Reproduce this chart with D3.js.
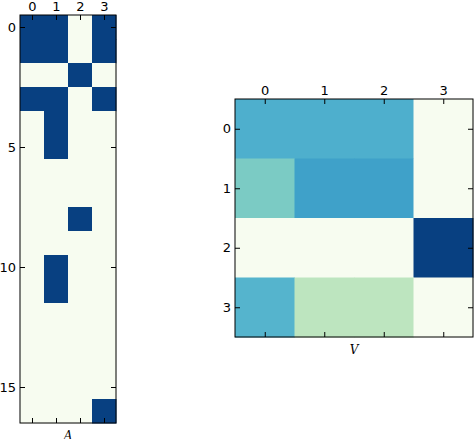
<!DOCTYPE html>
<html><head><meta charset="utf-8">
<script src="https://cdn.jsdelivr.net/npm/d3@7"></script>
<style>body{margin:0;background:#fff}text{font-family:"DejaVu Sans";font-size:13px}</style>
</head><body><svg id="c" width="474" height="439"></svg>
<script>
// binary matrix A (17 x 4)
var matA = [
  [1,1,0,1],[1,1,0,1],[0,0,1,0],[1,1,0,1],[0,1,0,0],[0,1,0,0],
  [0,0,0,0],[0,0,0,0],[0,0,1,0],[0,0,0,0],[0,1,0,0],[0,1,0,0],
  [0,0,0,0],[0,0,0,0],[0,0,0,0],[0,0,0,0],[0,0,0,1]
];
// matrix V (4 x 4)
var matV = [
  [0.63,0.63,0.63,0],
  [0.5,0.68,0.68,0],
  [0,0,0,1],
  [0.61,0.3,0.3,0]
];
var colTicks = [0,1,2,3];
var rowTicksA = [0,5,10,15];
var rowTicksV = [0,1,2,3];

var svg = d3.select('#c');
var fmt = d3.format('d');

function heat(mat, box, rowTicks, label) {
  var nr = mat.length, nc = mat[0].length;
  var x = d3.scaleLinear().domain([-0.5, nc - 0.5]).range([box.x0, box.x1]);
  var y = d3.scaleLinear().domain([-0.5, nr - 0.5]).range([box.y0, box.y1]);
  var g = svg.append('g');
  var cells = [];
  mat.forEach(function(r, i) { r.forEach(function(v, j) { cells.push({i: i, j: j, v: v}); }); });
  g.selectAll('rect.cell').data(cells).enter().append('rect')
    .attr('x', function(d) { return x(d.j - 0.5); })
    .attr('y', function(d) { return y(d.i - 0.5); })
    .attr('width', x(1) - x(0) + 0.5)
    .attr('height', y(1) - y(0) + 0.5)
    .attr('fill', function(d) { return d3.interpolateGnBu(d.v); });
  g.append('rect').attr('x', box.x0).attr('y', box.y0)
    .attr('width', box.x1 - box.x0).attr('height', box.y1 - box.y0)
    .attr('fill', 'none').attr('stroke', '#000');
  var top = g.append('g').attr('transform', 'translate(0,' + box.y0 + ')')
    .call(d3.axisTop(x).tickValues(colTicks).tickFormat(fmt).tickSizeInner(-5).tickSizeOuter(0).tickPadding(4));
  var bot = g.append('g').attr('transform', 'translate(0,' + box.y1 + ')')
    .call(d3.axisBottom(x).tickValues(colTicks).tickSizeInner(-5).tickSizeOuter(0).tickFormat(''));
  var left = g.append('g').attr('transform', 'translate(' + box.x0 + ',0)')
    .call(d3.axisLeft(y).tickValues(rowTicks).tickFormat(fmt).tickSizeInner(-5).tickSizeOuter(0).tickPadding(4));
  var right = g.append('g').attr('transform', 'translate(' + box.x1 + ',0)')
    .call(d3.axisRight(y).tickValues(rowTicks).tickSizeInner(-5).tickSizeOuter(0).tickFormat(''));
  [top, bot, left, right].forEach(function(a) {
    a.select('.domain').remove();
    a.selectAll('text').style('font-size', '13px').attr('fill', '#000');
  });
  g.append('text').attr('x', (box.x0 + box.x1) / 2).attr('y', box.y1 + 17)
    .attr('text-anchor', 'middle').style('font-style', 'italic')
    .style('font-family', 'DejaVu Serif').style('font-size', '12px').text(label);
}

heat(matA, {x0: 20, x1: 116, y0: 15, y1: 423}, rowTicksA, 'A');
heat(matV, {x0: 235, x1: 473, y0: 99, y1: 337}, rowTicksV, 'V');
</script></body></html>
